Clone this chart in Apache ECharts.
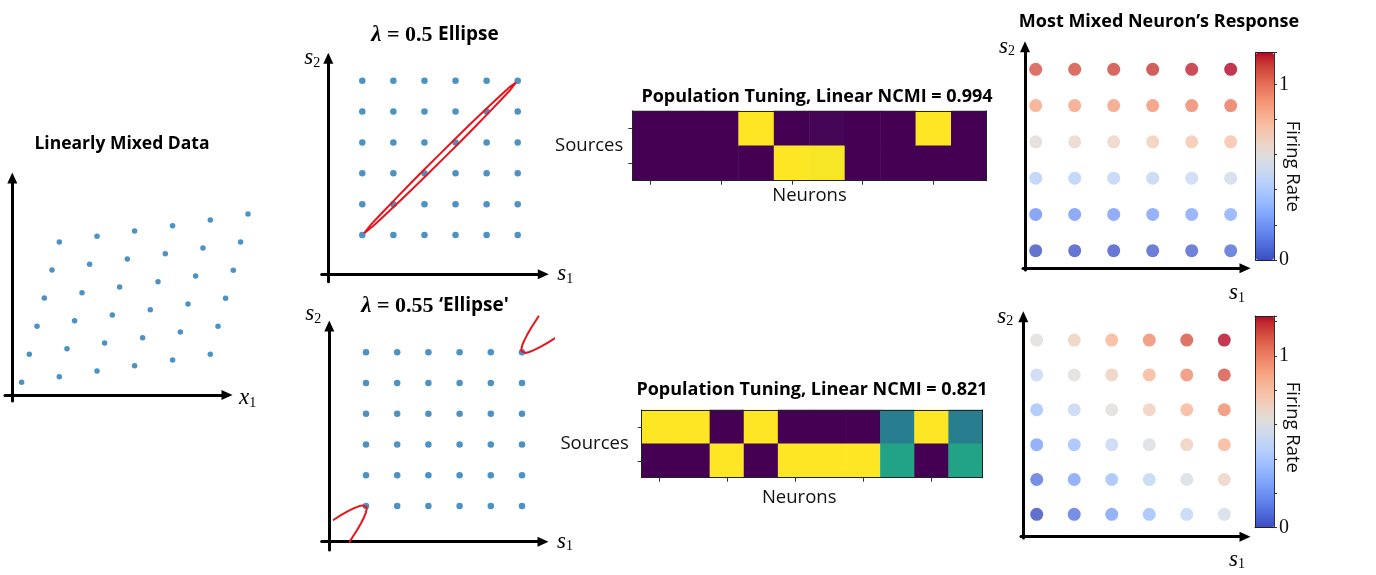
<!DOCTYPE html>
<html><head><meta charset="utf-8">
<script src="https://cdn.jsdelivr.net/npm/echarts@6/dist/echarts.min.js"></script>
<style>html,body{margin:0;padding:0;background:#fff}#main{width:1376px;height:575px}</style>
</head><body><div id="main"></div>
<script>
// ---------- DATA ----------
// Panel 1: linearly mixed data, [x1, x2] positions (arbitrary units)
const mixedPoints = [
  [9.3,12.7],[47,18.3],[84.7,24],[122.3,29.3],[160.3,35],[198,40.7],
  [17,40.7],[54.7,46.3],[92.3,52],[130.3,57.3],[168,63],[205.7,68.7],
  [24.7,68.7],[62.3,74.3],[100,80],[138,85.3],[175.7,91],[213.3,96.7],
  [32,97],[69.7,102.3],[107.3,108],[145.7,113.3],[183.3,119],[221,124.7],
  [39.7,125],[77.3,130.7],[115,136],[153,141.3],[190.7,147],[228.3,153],
  [47,153],[84.7,158.7],[122.3,164],[160.3,169.3],[198,175],[235.7,181]
];
// stimulus levels s1, s2
const sLevels = [1, 2, 3, 4, 5, 6];
// lambda = 0.5 ellipse outline [s1, s2]
const ellipsePts = [
  [1.06,1.06],[1.3,1.36],[1.6,1.68],[2.0,2.10],[2.5,2.62],[3.0,3.13],[3.5,3.63],[4.0,4.13],
  [4.5,4.62],[5.0,5.10],[5.4,5.48],[5.7,5.76],[5.94,5.94],
  [5.76,5.7],[5.48,5.4],[5.10,5.0],[4.62,4.5],[4.13,4.0],[3.63,3.5],[3.13,3.0],[2.62,2.5],
  [2.10,2.0],[1.68,1.6],[1.36,1.3],[1.06,1.06]
];
// lambda = 0.55 'ellipse' (hyperbola branches) [s1, s2]
const hyperTop = [
  [6.54,7.19],[6.43,7.01],[6.29,6.79],[6.16,6.56],[6.07,6.38],[6.01,6.23],[5.98,6.11],[5.98,6.04],
  [6.0,6.0],[6.04,5.98],[6.11,5.98],[6.23,6.01],[6.38,6.07],[6.56,6.16],[6.79,6.29],[7.01,6.43],[7.19,6.54]
];
const hyperBottom = [
  [0.46,-0.19],[0.57,-0.01],[0.71,0.21],[0.84,0.44],[0.93,0.62],[0.99,0.77],[1.02,0.89],[1.02,0.96],
  [1.0,1.0],[0.96,1.02],[0.89,1.02],[0.77,0.99],[0.62,0.93],[0.44,0.84],[0.21,0.71],[-0.01,0.57],[-0.19,0.46]
];
// population tuning heatmaps
const neurons = ['1','2','3','4','5','6','7','8','9','10'];
const sources = ['s1','s2'];
const tuningA_s1 = [0,0,0,1,0,0.01,0,0,1,0];
const tuningA_s2 = [0,0,0,0,1,0.99,0,0,0,0];
const tuningB_s1 = [1,1,0,1,0,0,0,0.42,1,0.42];
const tuningB_s2 = [0,0,1,0,1,1,1,0.58,0,0.58];
// firing rates, rows s2 = 1..6 (bottom to top), columns s1 = 1..6
const rateA = [
  [0.01,0.02,0.03,0.05,0.06,0.08],
  [0.19,0.21,0.22,0.24,0.26,0.28],
  [0.43,0.44,0.46,0.48,0.50,0.53],
  [0.61,0.65,0.67,0.71,0.73,0.76],
  [0.85,0.87,0.88,0.91,0.94,0.98],
  [1.07,1.08,1.10,1.12,1.15,1.18]
];
const rateB = [
  [0.00,0.11,0.25,0.37,0.49,0.58],
  [0.11,0.25,0.37,0.49,0.59,0.70],
  [0.25,0.37,0.51,0.60,0.72,0.84],
  [0.38,0.51,0.62,0.72,0.84,0.97],
  [0.52,0.62,0.72,0.84,0.97,1.11],
  [0.62,0.72,0.84,0.97,1.11,1.23]
];
const rateMaxA = 1.18, rateMaxB = 1.233;
const colorbarTicks = [0, 1];

// ---------- STYLE HELPERS ----------
const viridis = ['#440154','#482475','#414487','#355f8d','#2a788e','#21918c','#22a884','#44bf70','#7ad151','#bddf26','#fde725'];
const coolwarm = ['#3b4cc0','#445acc','#4d68d7','#5775e1','#6282ea','#6c8ef1','#779af7','#82a5fb','#8db0fe','#98b9ff','#a3c2ff','#aec9fd','#b8d0f9','#c2d5f4','#ccd9ee','#d5dbe6','#dddddd','#e5d8d1','#ecd3c5','#f1ccb8','#f5c4ac','#f7bba0','#f7b194','#f7a687','#f49a7b','#f18d6f','#ec7f63','#e57058','#de604d','#d55042','#cb3e38','#c0282f','#b40426'];
const BLUE = '#1f77b4', RED = '#e8141b';
const serif = '"Liberation Serif", "DejaVu Serif", serif';
const sans = '"Open Sans", "Noto Sans", sans-serif';
function mathName(letter, sub) { return '{i|' + letter + '}{b|' + sub + '}'; }
const mathRich = {
  i: {fontFamily: serif, fontStyle: 'italic', fontSize: 23, color: '#000'},
  b: {fontFamily: serif, fontSize: 14, color: '#000', padding: [10, 0, 0, 0]}
};
function arrowLine() {
  return {show: true, onZero: true, symbol: ['none', 'triangle'], symbolSize: [10, 11],
          lineStyle: {color: '#000', width: 3}};
}
function arrowX(gi, min, max, name, nameGap, ts) {
  return {gridIndex: gi, type: 'value', min: min, max: max, axisLine: arrowLine(),
    axisTick: {show: false}, axisLabel: {show: false}, splitLine: {show: false},
    name: name, nameLocation: 'end', nameGap: nameGap,
    nameTextStyle: Object.assign({rich: mathRich}, ts || {})};
}
function arrowY(gi, min, max, name, ts) {
  return {gridIndex: gi, type: 'value', min: min, max: max, axisLine: arrowLine(),
    axisTick: {show: false}, axisLabel: {show: false}, splitLine: {show: false},
    name: name, nameLocation: 'end', nameGap: 0,
    nameTextStyle: Object.assign({rich: mathRich, align: 'right', verticalAlign: 'middle', padding: [0, 8, 0, 0]}, ts || {})};
}
function hiddenAxis(gi) { return {gridIndex: gi, type: 'value', min: 0, max: 7, show: false}; }
function spineX(gi, type, pos, data) {
  const a = {gridIndex: gi, type: type, position: pos, z: 5,
    axisLine: {show: true, onZero: false, lineStyle: {color: '#222', width: 1}},
    axisTick: {show: false}, axisLabel: {show: false}, splitLine: {show: false}};
  if (data) a.data = data; else { a.min = 0; a.max = 1; }
  return a;
}
function spineY(gi, type, pos, data) {
  const a = spineX(gi, type, pos, data);
  if (data) a.inverse = true;
  return a;
}
const grids = [
  {left: 5, top: 178, width: 222, height: 223},          // 0 mixed data
  {left: 321.7, top: 58.3, width: 221.6, height: 223.4}, // 1 ellipse axes
  {left: 331.2, top: 49.9, width: 217.6, height: 216},   // 2 ellipse data
  {left: 321.7, top: 326, width: 221.3, height: 224},    // 3 hyperbola axes
  {left: 334.8, top: 321.56, width: 218.4, height: 215.2}, // 4 hyperbola data
  {left: 632.3, top: 111, width: 354.4, height: 69.7},   // 5 heatmap A
  {left: 641.7, top: 410, width: 341, height: 67.7},     // 6 heatmap B
  {left: 1023, top: 46.7, width: 222, height: 223.3},    // 7 neuron A axes
  {left: 996.7, top: 33, width: 273, height: 254},       // 8 neuron A data
  {left: 1021, top: 316.7, width: 224, height: 221.3},   // 9 neuron B axes
  {left: 999.2, top: 305.2, width: 262.6, height: 244},  // 10 neuron B data
  {left: 1255.7, top: 52.7, width: 18.3, height: 207.3}, // 11 colorbar A
  {left: 1255, top: 316, width: 19, height: 211.7}       // 12 colorbar B
].map(g => Object.assign({outerBoundsMode: 'none', containLabel: false}, g));

function heatAxisX(gi, nameGap, pad) {
  return {gridIndex: gi, type: 'category', data: neurons, position: 'bottom', z: 5,
    axisLine: {show: true, lineStyle: {color: '#222', width: 1}},
    axisTick: {show: true, interval: 1, alignWithLabel: true, length: 4, lineStyle: {color: '#333'}},
    axisLabel: {show: false}, splitLine: {show: false},
    name: 'Neurons', nameLocation: 'middle', nameGap: nameGap,
    nameTextStyle: {fontFamily: sans, fontSize: 18.5, color: '#111', padding: pad || 0}};
}
function heatAxisY(gi, nameGap) {
  return {gridIndex: gi, type: 'category', data: sources, inverse: true, position: 'left', z: 5,
    axisLine: {show: true, lineStyle: {color: '#222', width: 1}},
    axisTick: {show: true, alignWithLabel: true, length: 4, lineStyle: {color: '#333'}},
    axisLabel: {show: false}, splitLine: {show: false},
    name: 'Sources', nameLocation: 'middle', nameRotate: 0, nameGap: nameGap,
    nameTextStyle: {fontFamily: sans, fontSize: 18.5, color: '#111', padding: [6, 0, 0, 0]}};
}
function cbarY(gi, max, shift) {
  return {gridIndex: gi, type: 'value', position: 'right', min: 0, max: max, interval: 0.2, z: 5,
    axisLine: {show: true, onZero: false, lineStyle: {color: '#333', width: 1}},
    axisTick: {show: true, length: 3, lineStyle: {color: '#333'}},
    axisLabel: {show: true, margin: 5, fontFamily: serif, fontSize: 20, color: '#111',
      formatter: v => colorbarTicks.some(t => Math.abs(t - v) < 1e-6) ? String(Math.round(v)) : ''},
    splitLine: {show: false},
    name: 'Firing Rate', nameLocation: 'middle', nameRotate: -90, nameGap: 9, nameMoveOverlap: false,
    nameTextStyle: {fontFamily: sans, fontSize: 18.5, color: '#111', padding: [0, 0, 0, shift]}};
}

const xAxis = [
  arrowX(0, -7.3, 214.7, mathName('x', '1'), 12, {padding: [6, 0, 0, 0]}), // 0
  arrowX(1, -6.6, 215, mathName('s', '1'), 14),                          // 1
  hiddenAxis(2),                                                          // 2
  arrowX(3, -7.6, 213.7, mathName('s', '1'), 14),                        // 3
  hiddenAxis(4),                                                          // 4
  heatAxisX(5, 6),                                                        // 5
  spineX(5, 'category', 'top', neurons),                                  // 6
  heatAxisX(6, 11, [0, 26, 0, 0]),                                        // 7
  spineX(6, 'category', 'top', neurons),                                  // 8
  arrowX(7, -2, 220, mathName('s', '1'), 0, {align: 'right', verticalAlign: 'top', padding: [13, 0, 0, 0]}), // 9
  hiddenAxis(8),                                                          // 10
  arrowX(9, -2.3, 221.7, mathName('s', '1'), 0, {align: 'right', verticalAlign: 'top', padding: [11, 0, 0, 0]}), // 11
  hiddenAxis(10),                                                         // 12
  spineX(11, 'value', 'bottom'),                                          // 13
  spineX(11, 'value', 'top'),                                             // 14
  spineX(12, 'value', 'bottom'),                                          // 15
  spineX(12, 'value', 'top')                                              // 16
];
const yAxis = [
  arrowY(0, -6, 217, ''),                                                 // 0
  arrowY(1, -7.4, 216, mathName('s', '2')),                              // 1
  hiddenAxis(2),                                                          // 2
  arrowY(3, -8.3, 215.7, mathName('s', '2'), {verticalAlign: 'bottom'}), // 3
  hiddenAxis(4),                                                          // 4
  heatAxisY(5, 9),                                                        // 5
  spineY(5, 'category', 'right', sources),                                // 6
  heatAxisY(6, 13),                                                       // 7
  spineY(6, 'category', 'right', sources),                                // 8
  arrowY(7, -1.7, 221.6, mathName('s', '2'), {padding: [0, 10, 0, 0]}),  // 9
  hiddenAxis(8),                                                          // 10
  arrowY(9, -1.3, 220, mathName('s', '2'), {padding: [0, 10, 0, 0]}),    // 11
  hiddenAxis(10),                                                         // 12
  cbarY(11, rateMaxA, 20),                                                // 13
  spineY(11, 'value', 'left'),                                            // 14
  cbarY(12, rateMaxB, 11),                                                // 15
  spineY(12, 'value', 'left')                                             // 16
];

function gridPoints() {
  const out = [];
  sLevels.forEach(s2 => sLevels.forEach(s1 => out.push([s1, s2])));
  return out;
}
function ratePoints(rates) {
  const out = [];
  sLevels.forEach((s2, j) => sLevels.forEach((s1, i) => out.push([s1, s2, rates[j][i]])));
  return out;
}
function heatData(r1, r2) {
  const out = [];
  neurons.forEach((n, c) => { out.push([c, 0, r1[c]]); out.push([c, 1, r2[c]]); });
  return out;
}
const series = [
  {type: 'scatter', xAxisIndex: 0, yAxisIndex: 0, data: mixedPoints, symbolSize: 5.5, clip: false,
   itemStyle: {color: BLUE}, silent: true},                                                        // 0
  {type: 'scatter', xAxisIndex: 2, yAxisIndex: 2, data: gridPoints(), symbolSize: 6.5, clip: false,
   itemStyle: {color: BLUE}, silent: true},                                                        // 1
  {type: 'line', xAxisIndex: 2, yAxisIndex: 2, data: ellipsePts, showSymbol: false, clip: false,
   lineStyle: {color: RED, width: 2}, silent: true, z: 3},                                         // 2
  {type: 'scatter', xAxisIndex: 4, yAxisIndex: 4, data: gridPoints(), symbolSize: 6.5, clip: false,
   itemStyle: {color: BLUE}, silent: true},                                                        // 3
  {type: 'line', xAxisIndex: 4, yAxisIndex: 4, data: hyperTop, showSymbol: false, clip: false,
   lineStyle: {color: RED, width: 2}, silent: true, z: 3},                                         // 4
  {type: 'line', xAxisIndex: 4, yAxisIndex: 4, data: hyperBottom, showSymbol: false, clip: false,
   lineStyle: {color: RED, width: 2}, silent: true, z: 3},                                         // 5
  {type: 'heatmap', xAxisIndex: 5, yAxisIndex: 5, data: heatData(tuningA_s1, tuningA_s2), silent: true}, // 6
  {type: 'heatmap', xAxisIndex: 7, yAxisIndex: 7, data: heatData(tuningB_s1, tuningB_s2), silent: true}, // 7
  {type: 'scatter', xAxisIndex: 10, yAxisIndex: 10, data: ratePoints(rateA), symbolSize: 13, silent: true}, // 8
  {type: 'scatter', xAxisIndex: 12, yAxisIndex: 12, data: ratePoints(rateB), symbolSize: 13, silent: true}  // 9
];

const visualMap = [
  {type: 'continuous', seriesIndex: [6, 7], dimension: 2, min: 0, max: 1, show: false,
   inRange: {color: viridis}},
  {type: 'continuous', seriesIndex: 8, dimension: 2, min: 0, max: rateMaxA, show: true, calculable: false,
   left: 1255.7, top: 52.7, itemWidth: 18.3, itemHeight: 207.3, padding: 0, text: null, showLabel: false,
   hoverLink: false, inRange: {color: coolwarm}},
  {type: 'continuous', seriesIndex: 9, dimension: 2, min: 0, max: rateMaxB, show: true, calculable: false,
   left: 1255, top: 316, itemWidth: 19, itemHeight: 211.7, padding: 0, text: null, showLabel: false,
   hoverLink: false, inRange: {color: coolwarm}}
];

const lamRich = {
  m: {fontFamily: serif, fontStyle: 'italic', fontWeight: 'bold', fontSize: 23, fill: '#000'},
  n: {fontFamily: serif, fontWeight: 'bold', fontSize: 22, fill: '#000'},
  e: {fontFamily: sans, fontWeight: 'bold', fontSize: 19, fill: '#000'}
};
const graphic = [
  {type: 'text', x: 122, y: 144, style: {text: 'Linearly Mixed Data', font: 'bold 17.5px ' + sans, fill: '#000', textAlign: 'center', textVerticalAlign: 'middle'}},
  {type: 'text', x: 435, y: 35, style: {text: '{m|λ}{n| = 0.5 }{e|Ellipse}', textAlign: 'center', textVerticalAlign: 'middle', rich: lamRich}},
  {type: 'text', x: 435, y: 306, style: {text: '{m|λ}{n| = 0.55 }{e|‘Ellipse\'}', textAlign: 'center', textVerticalAlign: 'middle', rich: lamRich}},
  {type: 'text', x: 817, y: 97, style: {text: 'Population Tuning, Linear NCMI = 0.994', font: 'bold 18px ' + sans, fill: '#000', textAlign: 'center', textVerticalAlign: 'middle'}},
  {type: 'text', x: 812, y: 390, style: {text: 'Population Tuning, Linear NCMI = 0.821', font: 'bold 18px ' + sans, fill: '#000', textAlign: 'center', textVerticalAlign: 'middle'}},
  {type: 'text', x: 1159, y: 22, style: {text: 'Most Mixed Neuron’s Response', font: 'bold 18px ' + sans, fill: '#000', textAlign: 'center', textVerticalAlign: 'middle'}}
];

const chart = echarts.init(document.getElementById('main'), null, {renderer: 'canvas'});
chart.setOption({
  animation: false,
  backgroundColor: '#fff',
  grid: grids, xAxis: xAxis, yAxis: yAxis, series: series, visualMap: visualMap, graphic: graphic
});
</script></body></html>
